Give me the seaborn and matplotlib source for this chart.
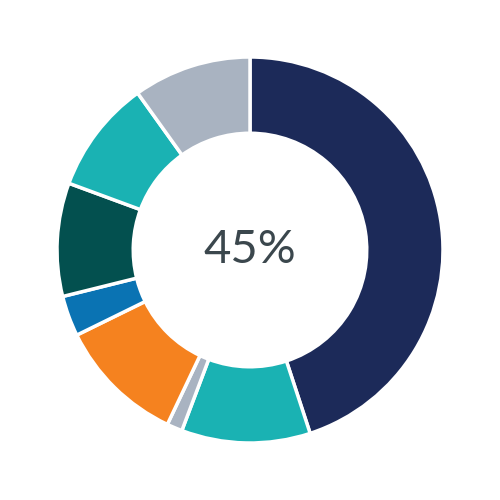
import matplotlib
matplotlib.use("Agg")
import matplotlib.pyplot as plt
import seaborn as sns

# slice shares, clockwise from 12 o'clock
shares = [45.0, 10.8, 1.3, 10.7, 3.4, 9.5, 9.5, 9.9]
colors = ["#1c2a59", "#1ab2b3", "#a9b3c1", "#f5821f", "#0a73b3",
          "#03504f", "#1ab2b3", "#a9b3c1"]
center_label = "45%"

sns.set_theme(style="white")
plt.rcParams["font.family"] = ["Lato", "DejaVu Sans"]

fig = plt.figure(figsize=(5, 5), dpi=100)
ax = fig.add_axes([0, 0, 1, 1])
ax.pie(shares, colors=sns.color_palette(colors), startangle=90, counterclock=False,
       radius=1.0, wedgeprops=dict(width=0.395, edgecolor="white", linewidth=2.5))
lim = 250 / 193
ax.set_xlim(-lim, lim)
ax.set_ylim(-lim, lim)
ax.set_aspect("equal")
ax.axis("off")
ax.text(0, 0, center_label, ha="center", va="center", fontsize=34,
        color="#3b474d", fontweight="normal")
fig.savefig("out.png", dpi=100)
